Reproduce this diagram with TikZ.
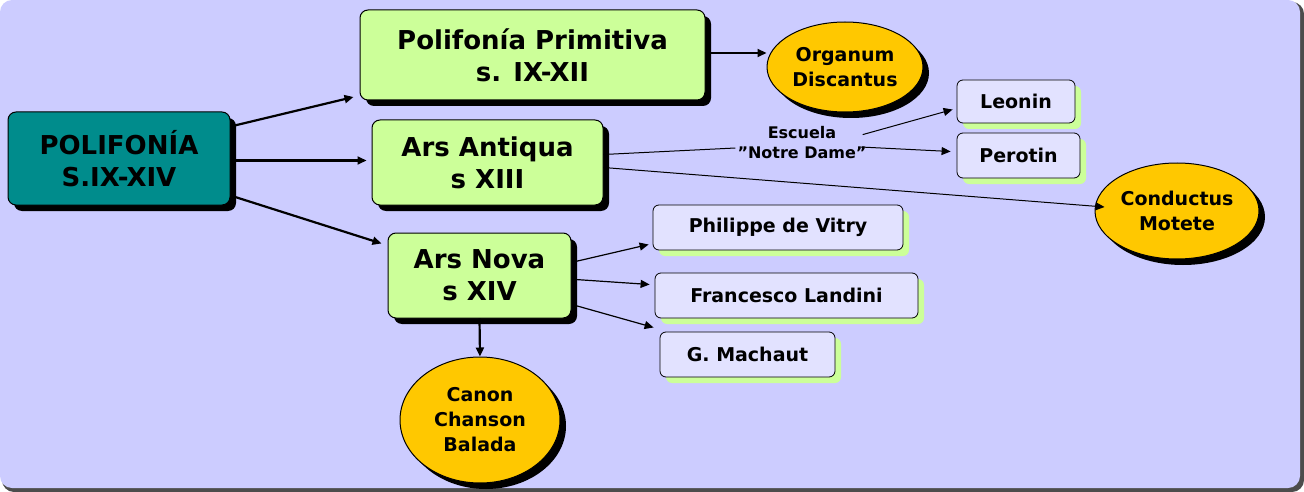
\documentclass[tikz,border=0pt]{standalone}
\usepackage{fontspec}
\setmainfont{DejaVu Sans}
\usetikzlibrary{calc,arrows.meta,shapes.geometric}
\definecolor{bg}{RGB}{204,204,255}
\definecolor{teal1}{RGB}{0,140,140}
\definecolor{lgreen}{RGB}{204,255,153}
\definecolor{orng}{RGB}{255,200,0}
\definecolor{pbox}{RGB}{226,226,255}
\begin{document}
\begin{tikzpicture}[x=1pt,y=-1pt,
 big/.style={draw=black,line width=1pt,rounded corners=8pt,font=\fontsize{26}{32}\selectfont\bfseries,align=center,inner sep=0pt},
 gbox/.style={big,fill=lgreen},
 oval/.style={ellipse,draw=black,line width=1pt,fill=orng,font=\fontsize{19}{25}\selectfont\bfseries,align=center,inner sep=0pt},
 pers/.style={draw=black,line width=0.8pt,rounded corners=6pt,fill=pbox,font=\fontsize{19}{23}\selectfont\bfseries,inner sep=0pt},
 arr/.style={-{Triangle[length=9pt,width=8pt]},line width=2.2pt},
 tarr/.style={-{Triangle[length=9pt,width=8pt]},line width=1.2pt}]
\useasboundingbox (0,0) rectangle (1304,492);
\fill[black!70,rounded corners=12pt] (2,2) rectangle (1304,492);
\fill[bg,rounded corners=12pt] (0,0) rectangle (1300,488);
% shadows
\fill[black,rounded corners=8pt] (14,118) rectangle (236,211);
\fill[black,rounded corners=8pt] (366,16) rectangle (711,106);
\fill[black,rounded corners=8pt] (378,126) rectangle (609,211);
\fill[black,rounded corners=8pt] (394,239) rectangle (577,324);
\fill[black] (851,73) ellipse (78 and 45);
\fill[black] (1183,217) ellipse (82 and 48);
\fill[black] (486,426) ellipse (80 and 63);
\fill[lgreen,rounded corners=6pt] (963,86) rectangle (1081,129);
\fill[lgreen,rounded corners=6pt] (963,139) rectangle (1086,184);
\fill[lgreen,rounded corners=6pt] (659,211) rectangle (909,256);
\fill[lgreen,rounded corners=6pt] (661,279) rectangle (924,324);
\fill[lgreen,rounded corners=6pt] (666,338) rectangle (841,383);
% nodes
\node[big,fill=teal1,minimum width=222pt,minimum height=93pt] (pol) at (119,158.5) {POLIFONÍA\\S.IX-XIV};
\node[gbox,minimum width=345pt,minimum height=90pt] (pp) at (532.5,55) {Polifonía Primitiva\\s. IX-XII};
\node[gbox,minimum width=231pt,minimum height=85pt] (aa) at (487.5,162.5) {Ars Antiqua\\s XIII};
\node[gbox,minimum width=183pt,minimum height=85pt] (an) at (479.5,275.5) {Ars Nova\\s XIV};
\node[oval,minimum width=156pt,minimum height=90pt] (org) at (845,67) {Organum\\Discantus};
\node[oval,minimum width=164pt,minimum height=96pt] (con) at (1177,211) {Conductus\\Motete};
\node[oval,minimum width=160pt,minimum height=126pt] (can) at (480,420) {Canon\\Chanson\\Balada};
\node[pers,minimum width=118pt,minimum height=43pt] (leo) at (1016,101.5) {Leonin};
\node[pers,minimum width=123pt,minimum height=45pt] (per) at (1018.5,155.5) {Perotin};
\node[pers,minimum width=250pt,minimum height=45pt] (phi) at (778,227.5) {Philippe de Vitry};
\node[pers,minimum width=263pt,minimum height=45pt] (fra) at (786.5,295.5) {Francesco Landini};
\node[pers,minimum width=175pt,minimum height=45pt] (mac) at (747.5,354.5) {G. Machaut};
\node[font=\fontsize{16}{20}\selectfont\bfseries,align=center,inner sep=2pt] (esc) at (802,143) {Escuela\\\symbol{34}Notre Dame\symbol{34}};
% arrows
\draw[arr] ($(pol.east)+(0,-32)$) -- ($(pp.west)+(-6,42)$);
\draw[arr] ($(pol.east)+(0,2)$) -- ($(aa.west)+(-5,-2)$);
\draw[arr] ($(pol.east)+(0,37)$) -- ($(an.west)+(-6,-32)$);
\draw[arr] ($(pp.east)+(0,-2)$) -- ($(org.west)+(0,-14)$);
\draw[arr] (an.south) -- (can.north);
\draw[line width=1pt] ($(aa.east)+(0,-8)$) -- ($(esc.west)+(0,5)$);
\draw[tarr,line width=1pt] ($(esc.north east)+(-6,10)$) -- ($(leo.west)+(-4,8)$);
\draw[tarr,line width=1pt] ($(esc.east)+(-8,4)$) -- ($(per.west)+(-6,-4)$);
\draw[tarr,line width=1pt] ($(aa.east)+(0,5)$) -- ($(con.west)+(10,-4)$);
\draw[tarr] ($(an.east)+(4,-14)$) -- ($(phi.west)+(-4,17)$);
\draw[tarr] ($(an.east)+(4,4)$) -- ($(fra.west)+(-5,-11)$);
\draw[tarr] ($(an.east)+(4,30)$) -- ($(mac.west)+(-6,-27)$);
\end{tikzpicture}
\end{document}
